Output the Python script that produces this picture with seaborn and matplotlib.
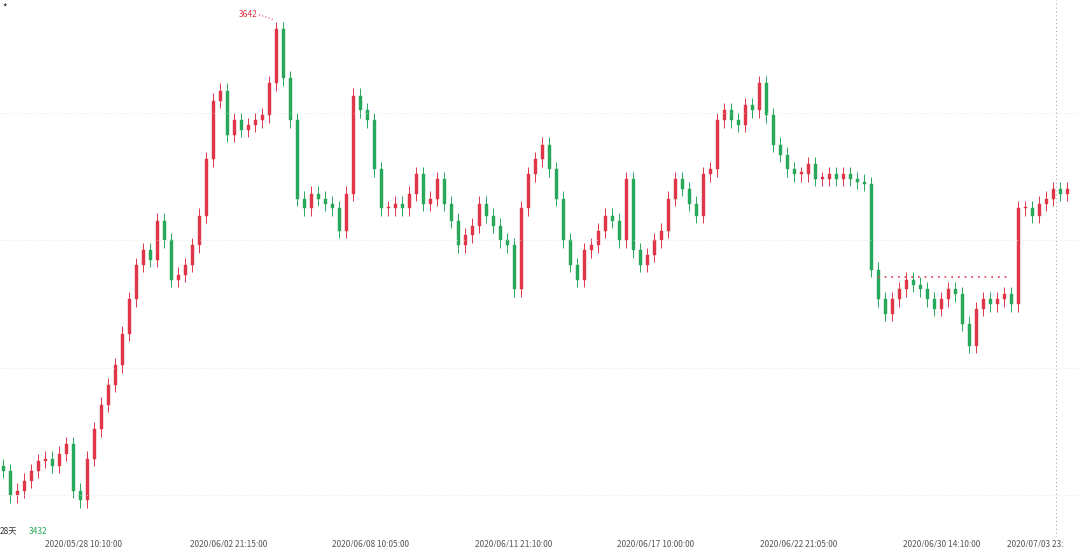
import matplotlib
matplotlib.use("Agg")
import matplotlib.pyplot as plt
import seaborn as sns
import numpy as np

closes = [3456,3446,3448,3452,3456,3460,3461,3458,3463,3467,3448,3444,3461,3473,3483,3491,3499,3512,3526,3540,
          3546,3542,3558,3550,3534,3536,3540,3548,3560,3583,3607,3611,3593,3599,3595,3597,3599,3601,3614,3636,
          3616,3599,3567,3563,3569,3567,3565,3563,3554,3569,3609,3603,3599,3579,3563,3563,3565,3563,3569,3577,
          3565,3567,3575,3565,3558,3548,3552,3556,3565,3560,3556,3550,3548,3530,3563,3577,3583,3589,3579,3567,
          3550,3540,3534,3546,3548,3554,3560,3558,3550,3575,3546,3540,3544,3550,3554,3567,3575,3571,3565,3560,
          3577,3579,3599,3603,3599,3597,3605,3603,3614,3601,3589,3585,3579,3577,3577,3581,3575,3575,3577,3575,
          3577,3575,3574,3573,3538,3526,3520,3526,3530,3534,3532,3530,3526,3522,3526,3530,3528,3516,3507,3522,
          3526,3524,3526,3528,3524,3563,3563,3560,3565,3567,3571,3569,3571]
opens = [closes[0] + 2] + closes[:-1]
ticks_idx = [11.4, 32.1, 52.4, 72.9, 93.1, 113.6, 134.0, 151.4]
tick_labels = ["2020/05/28 10:10:00", "2020/06/02 21:15:00", "2020/06/08 10:05:00", "2020/06/11 21:10:00",
               "2020/06/17 10:00:00", "2020/06/22 21:05:00", "2020/06/30 14:10:00", "2020/07/03 23:"]

sns.set_style("white")
plt.rcParams['font.family'] = ['Noto Sans CJK SC', 'DejaVu Sans']
fig, ax = plt.subplots(figsize=(10.8, 5.47), dpi=100)
fig.subplots_adjust(left=0, right=1, top=1, bottom=0.018)
up, dn = "#e0364a", "#27a85a"
for i, (o, c) in enumerate(zip(opens, closes)):
    col = up if c >= o else dn
    lo, hi = min(o, c), max(o, c)
    ax.vlines(i, lo - 3, hi + 3, color=col, lw=0.7)
    ax.bar(i, max(hi - lo, 0.8), bottom=lo, width=0.45, color=col, edgecolor=col, lw=0.3)

ax.set_xlim(-0.5, 153.8)
ax.set_ylim(3429, 3648)
for yv in [3602, 3550, 3498, 3446]:
    ax.axhline(yv, color="#dddddd", lw=0.6, ls=(0, (1, 3)))
ax.axvline(150.4, color="#999999", lw=0.7, ls=(0, (1, 3)))
ax.hlines(3535, 125, 143.6, color=up, lw=1.2, ls=(0, (1, 3)))
ax.plot([36.5, 38.6], [3642, 3640], color=up, lw=0.8, ls=(0, (1, 2)))
ax.text(36.3, 3642, "3642", color=up, fontsize=6, ha="right", va="center")
ax.text(3.6, 3431.5, "3432", color=dn, fontsize=6, ha="left", va="center")
ax.text(-0.5, 3431.5, "28天", color="#333333", fontsize=6, ha="left", va="center")
ax.text(0.002, 0.995, "*", transform=ax.transAxes, fontsize=7, ha="left", va="top")
ax.set_yticks([])
ax.set_xticks(ticks_idx)
ax.set_xticklabels(tick_labels, fontsize=6, color="#555555")
ax.get_xticklabels()[-1].set_ha("right")
ax.get_xticklabels()[-1].set_x(153.8)
ax.tick_params(axis="x", length=0, pad=2)
for s in ax.spines.values():
    s.set_visible(False)
fig.savefig("out.png", dpi=100)
